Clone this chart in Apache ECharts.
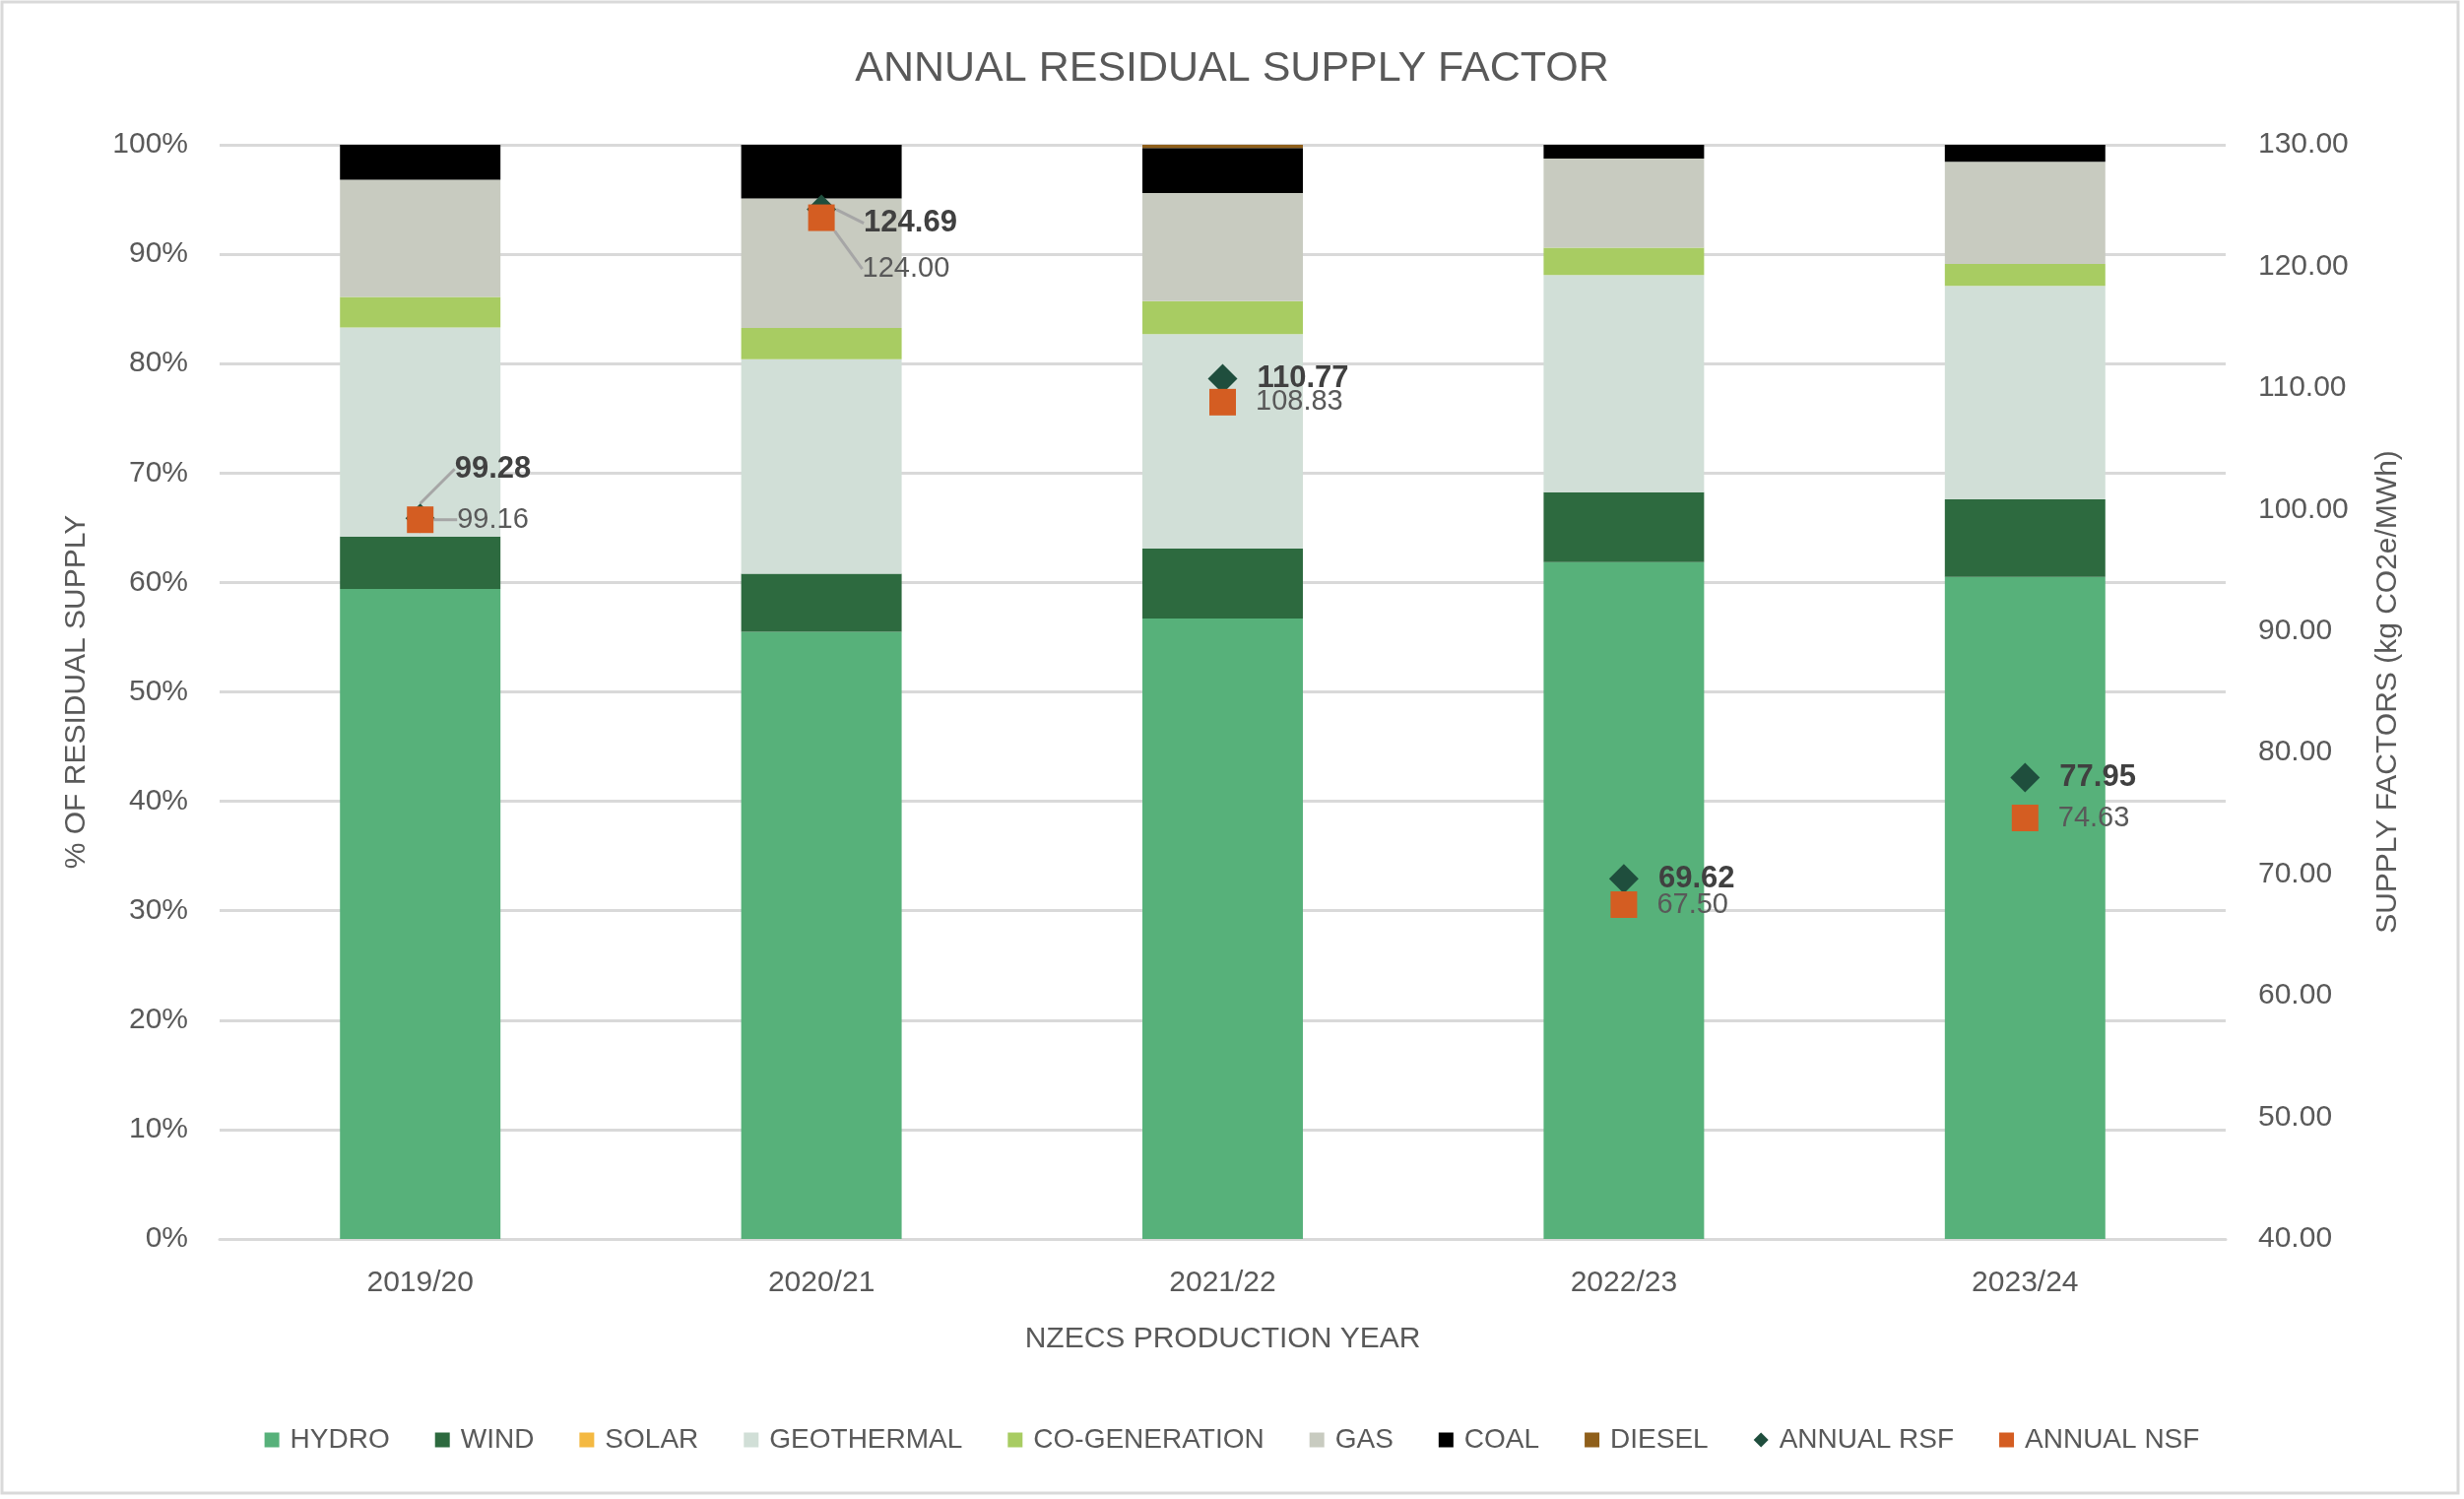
<!DOCTYPE html>
<html>
<head>
<meta charset="utf-8">
<script src="https://cdn.jsdelivr.net/npm/echarts@6/dist/echarts.min.js"></script>
<style>
html,body{margin:0;padding:0;background:#fff;}
#chart{width:2502px;height:1522px;}
</style>
</head>
<body>
<div id="chart"></div>
<script>
const categories = ['2019/20', '2020/21', '2021/22', '2022/23', '2023/24'];
const hydro      = [59.4, 55.5, 56.7, 61.85, 60.5];
const wind       = [4.8, 5.3, 6.4, 6.4, 7.1];
const solar      = [0, 0, 0, 0, 0];
const geothermal = [19.1, 19.6, 19.6, 19.85, 19.5];
const cogen      = [2.8, 2.85, 3.0, 2.5, 2.0];
const gas        = [10.7, 11.85, 9.9, 8.15, 9.35];
const coal       = [3.2, 4.9, 4.1, 1.25, 1.55];
const diesel     = [0, 0, 0.3, 0, 0];
const annualRSF  = [99.28, 124.69, 110.77, 69.62, 77.95];
const annualNSF  = [99.16, 124.00, 108.83, 67.50, 74.63];
const leftTicks  = {min: 0, max: 100, interval: 10};
const rightTicks = {min: 40, max: 130, interval: 10};

const FONT = 'Liberation Sans';
const GREY = '#595959';

const barDefs = [
  ['HYDRO', hydro, '#57b17a'],
  ['WIND', wind, '#2d6a3f'],
  ['SOLAR', solar, '#f4b942'],
  ['GEOTHERMAL', geothermal, '#d1dfd7'],
  ['CO-GENERATION', cogen, '#a8cc62'],
  ['GAS', gas, '#c8cbc0'],
  ['COAL', coal, '#000000'],
  ['DIESEL', diesel, '#8f5f1a']
];

const series = barDefs.map(([name, vals, color]) => ({
  name: name,
  type: 'bar',
  stack: 'mix',
  barWidth: '40%',
  itemStyle: {color: color},
  data: vals
}));

// label offsets for crowded points (index -> [dx, dy])
const rsfMoves = {0: [0, -50], 1: [8, 14]};
const nsfMoves = {0: [4, 0], 1: [8, 52]};

series.push({
  name: 'ANNUAL RSF',
  type: 'scatter',
  yAxisIndex: 1,
  symbol: 'diamond',
  symbolSize: 30,
  itemStyle: {color: '#1f4e3d', opacity: 1},
  z: 5,
  label: {
    show: true, position: 'right', distance: 20,
    formatter: p => p.value.toFixed(2),
    fontFamily: FONT, fontSize: 31, fontWeight: 'bold', color: '#404040'
  },
  labelLine: {show: false, lineStyle: {color: '#a6a6a6', width: 3}},
  labelLayout: p => rsfMoves[p.dataIndex] ? {dx: rsfMoves[p.dataIndex][0], dy: rsfMoves[p.dataIndex][1]} : {},
  data: annualRSF.map((v, i) => rsfMoves[i] ? {value: v, labelLine: {show: true}} : v)
});
series.push({
  name: 'ANNUAL NSF',
  type: 'scatter',
  yAxisIndex: 1,
  symbol: 'rect',
  symbolSize: 27,
  itemStyle: {color: '#d45d22', opacity: 1},
  z: 6,
  label: {
    show: true, position: 'right', distance: 20,
    formatter: p => p.value.toFixed(2),
    fontFamily: FONT, fontSize: 29, color: GREY
  },
  labelLine: {show: false, lineStyle: {color: '#a6a6a6', width: 3}},
  labelLayout: p => nsfMoves[p.dataIndex] ? {dx: nsfMoves[p.dataIndex][0], dy: nsfMoves[p.dataIndex][1]} : {},
  data: annualNSF.map((v, i) => nsfMoves[i] ? {value: v, labelLine: {show: true}} : v)
});

const chart = echarts.init(document.getElementById('chart'));
chart.setOption({
  animation: false,
  backgroundColor: '#ffffff',
  textStyle: {fontFamily: FONT},
  title: {
    text: 'ANNUAL RESIDUAL SUPPLY FACTOR',
    left: 'center', top: 44,
    textStyle: {fontFamily: FONT, fontSize: 43, fontWeight: 'normal', color: GREY}
  },
  graphic: [{
    type: 'rect', silent: true, z: -10,
    shape: {x: 2, y: 2, width: 2494, height: 1514},
    style: {fill: 'none', stroke: '#d9d9d9', lineWidth: 3}
  }],
  grid: {left: 223, right: 242, top: 147, bottom: 264, containLabel: false},
  legend: {
    bottom: 41, left: 'center',
    itemWidth: 15, itemHeight: 15, itemGap: 46,
    icon: 'rect',
    textStyle: {fontFamily: FONT, fontSize: 28, color: GREY, padding: [0, 0, 0, 6]},
    data: barDefs.map(d => ({name: d[0]})).concat([
      {name: 'ANNUAL RSF', icon: 'diamond'},
      {name: 'ANNUAL NSF', icon: 'rect'}
    ])
  },
  xAxis: {
    type: 'category',
    data: categories,
    name: 'NZECS PRODUCTION YEAR',
    nameLocation: 'middle', nameGap: 87,
    nameTextStyle: {fontFamily: FONT, fontSize: 30, color: GREY},
    axisLine: {lineStyle: {color: '#d9d9d9', width: 3}},
    axisTick: {show: false},
    axisLabel: {fontFamily: FONT, fontSize: 30, color: GREY, margin: 30}
  },
  yAxis: [{
    type: 'value',
    min: leftTicks.min, max: leftTicks.max, interval: leftTicks.interval,
    name: '% OF RESIDUAL SUPPLY',
    nameLocation: 'middle', nameGap: 130,
    nameTextStyle: {fontFamily: FONT, fontSize: 30, color: GREY},
    axisLabel: {formatter: '{value}%', fontFamily: FONT, fontSize: 30, color: GREY, margin: 32},
    axisLine: {show: false}, axisTick: {show: false},
    splitLine: {lineStyle: {color: '#d9d9d9', width: 3}}
  }, {
    type: 'value',
    min: rightTicks.min, max: rightTicks.max, interval: rightTicks.interval,
    name: 'SUPPLY FACTORS (kg CO2e/MWh)',
    nameLocation: 'middle', nameGap: 150, nameRotate: 90,
    nameTextStyle: {fontFamily: FONT, fontSize: 30, color: GREY},
    axisLabel: {formatter: v => v.toFixed(2), fontFamily: FONT, fontSize: 30, color: GREY, margin: 33},
    axisLine: {show: false}, axisTick: {show: false},
    splitLine: {show: false}
  }],
  series: series
});
</script>
</body>
</html>
